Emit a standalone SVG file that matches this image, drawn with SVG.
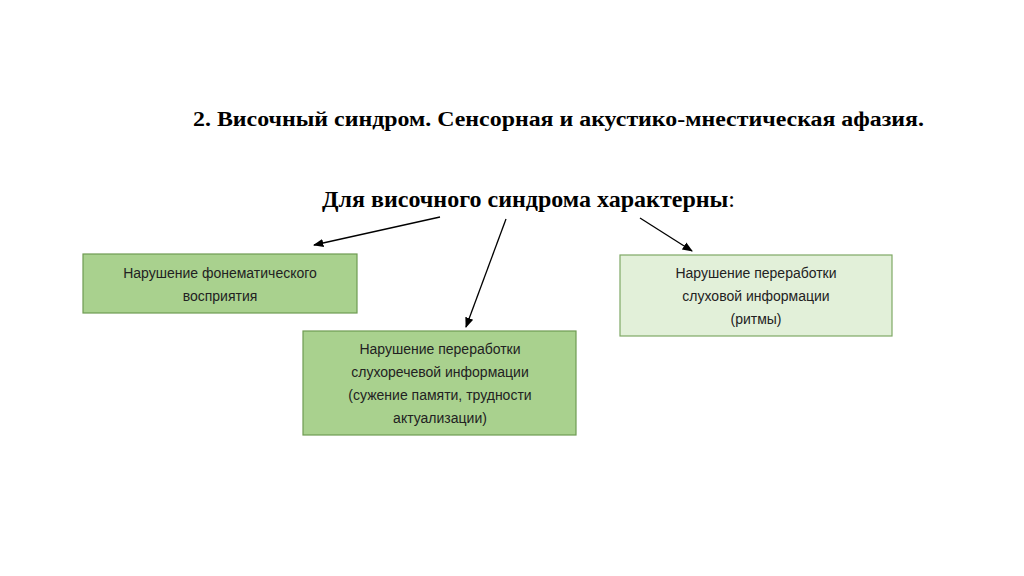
<svg xmlns="http://www.w3.org/2000/svg" width="1024" height="576" viewBox="0 0 1024 576">
<style>
.t{font-family:"Liberation Serif",serif;font-weight:bold;fill:#000}
.b{font-family:"Liberation Sans",Arial,sans-serif;font-size:14px;fill:#222;text-anchor:middle}
.dk{fill:#a9d18e;stroke:#6f9b52;stroke-width:1.2}
.lt{fill:#e2f0d9;stroke:#7fa865;stroke-width:1.2}
.c{stroke:#000;stroke-width:1.3;fill:none;marker-end:url(#a)}
</style>
<defs><marker id="a" viewBox="0 0 10 10" refX="9" refY="5" markerWidth="8" markerHeight="8" orient="auto"><path d="M0,1L10,5L0,9z" fill="#000"/></marker></defs>
<rect width="1024" height="576" fill="#fff"/>
<text class="t" x="193" y="126" font-size="20" textLength="731" lengthAdjust="spacingAndGlyphs">2. Височный синдром. Сенсорная и акустико-мнестическая афазия.</text>
<text class="t" x="322" y="207" font-size="23" textLength="413" lengthAdjust="spacingAndGlyphs">Для височного синдрома характерны<tspan font-weight="normal">:</tspan></text>
<g id="connectors">
<line class="c" x1="440" y1="217" x2="314" y2="245"/>
<line class="c" x1="506" y1="219" x2="466" y2="327"/>
<line class="c" x1="640" y1="218" x2="692" y2="251"/>
</g>
<g id="n1"><rect class="dk" x="83" y="254" width="274" height="59"/>
<text class="b" x="220" y="278">Нарушение фонематического</text><text class="b" x="220" y="301">восприятия</text></g>
<g id="n2"><rect class="dk" x="303" y="331" width="273" height="104"/>
<text class="b" x="440" y="354">Нарушение переработки</text><text class="b" x="440" y="377">слухоречевой информации</text><text class="b" x="440" y="400">(сужение памяти, трудности</text><text class="b" x="440" y="423">актуализации)</text></g>
<g id="n3"><rect class="lt" x="620" y="255" width="272" height="81"/>
<text class="b" x="756" y="278">Нарушение переработки</text><text class="b" x="756" y="301">слуховой информации</text><text class="b" x="756" y="324">(ритмы)</text></g>
</svg>
